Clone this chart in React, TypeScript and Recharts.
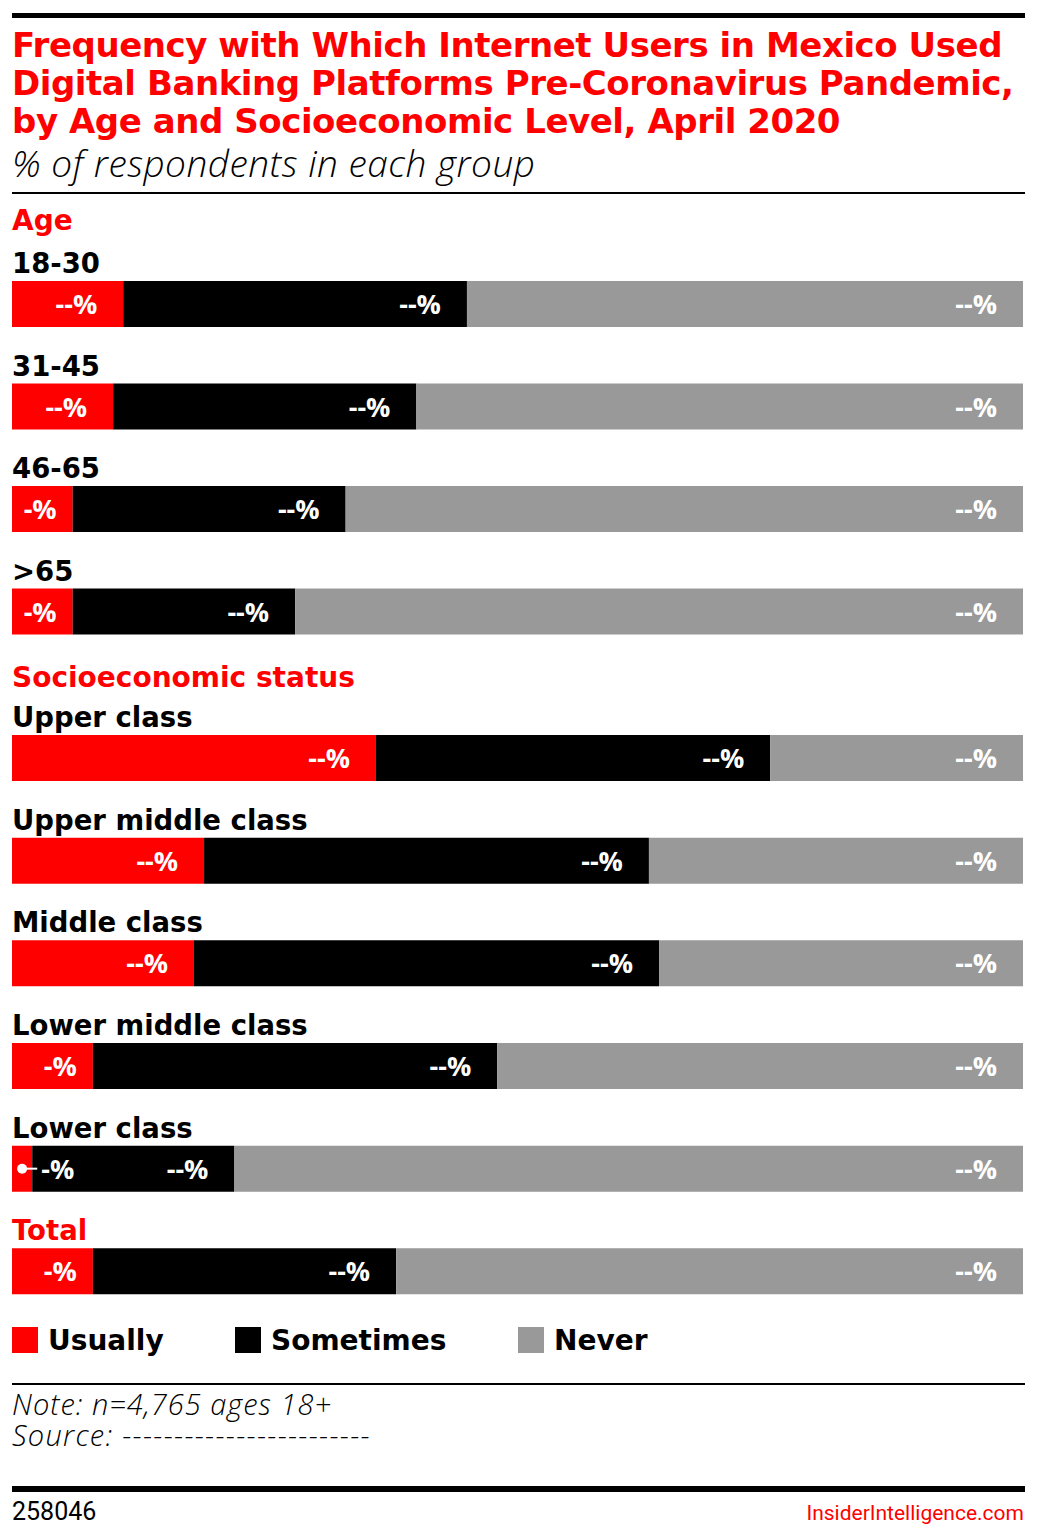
import React from 'react';
import { BarChart, Bar, XAxis, YAxis, LabelList } from 'recharts';

const RED = '#ff0000';
const BLACK = '#000000';
const GRAY = '#999999';

// age rows
const ageGroups = ['18-30', '31-45', '46-65', '>65'];
const ageUsually = [11, 10, 6, 6];
const ageSometimes = [34, 30, 27, 22];
const ageNever = [55, 60, 67, 72];

// socioeconomic rows (Total sits at the end of this block)
const socioGroups = ['Upper class', 'Upper middle class', 'Middle class', 'Lower middle class', 'Lower class', 'Total'];
const socioUsually = [36, 19, 18, 8, 2, 8];
const socioSometimes = [39, 44, 46, 40, 20, 30];
const socioNever = [25, 37, 36, 52, 78, 62];

const seriesNames = ['Usually', 'Sometimes', 'Never'];
const seriesColors = [RED, BLACK, GRAY];
const seriesKeys = ['usually', 'sometimes', 'never'];

const HEAD_FONT = '"DejaVu Sans", sans-serif';
const VALUE_FONT = '"Open Sans", sans-serif';
const NARROW_FONT = '"Liberation Sans Narrow", Roboto, sans-serif';

const buildRows = (groups: string[], u: number[], s: number[], n: number[]) =>
    groups.map((group, i) => ({ group, usually: u[i], sometimes: s[i], never: n[i] }));

const ageData = buildRows(ageGroups, ageUsually, ageSometimes, ageNever);
const socioData = buildRows(socioGroups, socioUsually, socioSometimes, socioNever);

// "--%" placeholders: one dash per digit
const ValueLabel = (props: any) => {
    const { x, y, width, height, value } = props;
    const text = value < 10 ? '-%' : '--%';
    const cy = Number(y) + Number(height) / 2;
    const style = { fontFamily: VALUE_FONT, fontWeight: 700, fontSize: 27, fill: '#fff' };
    if (width < 30) {
        // too thin for the text: dot + leader, text sits in the next segment
        const cx = Number(x) + Number(width) / 2;
        const end = Number(x) + Number(width);
        return (
            <g>
                <circle cx={cx} cy={cy} r={5} fill="#fff" />
                <line x1={cx} y1={cy} x2={end + 5} y2={cy} stroke="#fff" strokeWidth={2} />
                <text x={end + 9} y={cy + 10} style={style}>{text}</text>
            </g>
        );
    }
    const inset = value < 10 ? 16 : 26;
    return (
        <text x={Number(x) + Number(width) - inset} y={cy + 10} textAnchor="end" style={style}>
            {text}
        </text>
    );
};

const GroupLabel = (props: any) => {
    const { x, y, value } = props;
    return (
        <text
            x={x}
            y={Number(y) - 8}
            style={{ fontFamily: HEAD_FONT, fontWeight: 700, fontSize: 27.5, fill: value === 'Total' ? RED : BLACK }}
        >
            {value}
        </text>
    );
};

const StackedRows = ({ data, height }: { data: any[]; height: number }) => (
    <BarChart
        layout="vertical"
        width={1038}
        height={height}
        data={data}
        margin={{ top: 20, right: 15, bottom: 0, left: 12 }}
    >
        <XAxis type="number" domain={[0, 100]} hide />
        <YAxis type="category" dataKey="group" hide />
        {seriesKeys.map((key, i) => (
            <Bar key={key} dataKey={key} stackId="a" fill={seriesColors[i]} barSize={46} isAnimationActive={false}>
                {i === 0 && <LabelList dataKey="group" content={GroupLabel} />}
                <LabelList dataKey={key} content={ValueLabel} />
            </Bar>
        ))}
    </BarChart>
);

const App = () => {
    const legendX = [12, 235, 518];
    return (
        <div style={{ position: 'absolute', left: 0, top: 0, width: 1038, height: 1538, background: '#fff' }}>
            <svg width={1038} height={1538} style={{ position: 'absolute', left: 0, top: 0 }}>
                <rect x={12} y={13} width={1013} height={5} fill={BLACK} />
                <g style={{ fontFamily: HEAD_FONT, fontWeight: 700, fontSize: 34, fill: RED, letterSpacing: -0.45 }}>
                    <text x={12} y={56.5}>Frequency with Which Internet Users in Mexico Used</text>
                    <text x={12} y={94.5}>Digital Banking Platforms Pre-Coronavirus Pandemic,</text>
                    <text x={12} y={133}>by Age and Socioeconomic Level, April 2020</text>
                </g>
                <text
                    x={12}
                    y={177}
                    style={{ fontFamily: VALUE_FONT, fontStyle: 'italic', fontWeight: 300, fontSize: 37, letterSpacing: 0.5, fill: BLACK }}
                >
                    % of respondents in each group
                </text>
                <rect x={12} y={192} width={1013} height={2} fill={BLACK} />

                <text x={12} y={230} style={{ fontFamily: HEAD_FONT, fontWeight: 700, fontSize: 28, fill: RED }}>Age</text>
                <text x={12} y={686.5} style={{ fontFamily: HEAD_FONT, fontWeight: 700, fontSize: 28, fill: RED }}>
                    Socioeconomic status
                </text>

                {seriesNames.map((name, i) => (
                    <g key={name}>
                        <rect x={legendX[i]} y={1327} width={26} height={26} fill={seriesColors[i]} />
                        <text x={legendX[i] + 36} y={1350} style={{ fontFamily: HEAD_FONT, fontWeight: 700, fontSize: 28, fill: BLACK }}>
                            {name}
                        </text>
                    </g>
                ))}

                <rect x={12} y={1383} width={1013} height={2} fill={BLACK} />
                <g style={{ fontFamily: VALUE_FONT, fontStyle: 'italic', fontWeight: 300, fontSize: 29, fill: BLACK }}>
                    <text x={12} y={1415} style={{ letterSpacing: 1 }}>Note: n=4,765 ages 18+</text>
                    <text x={12} y={1446} style={{ letterSpacing: 1.3 }}>Source: ------------------------</text>
                </g>
                <rect x={12} y={1486} width={1013} height={6} fill={BLACK} />
                <text x={12} y={1520} style={{ fontFamily: NARROW_FONT, fontSize: 25, fill: BLACK }}>
                    258046
                </text>
                <text x={1024} y={1520} textAnchor="end" style={{ fontFamily: NARROW_FONT, fontSize: 21, fill: RED }}>
                    InsiderIntelligence.com
                </text>
            </svg>

            <div style={{ position: 'absolute', left: 0, top: 233 }}>
                <StackedRows data={ageData} height={430} />
            </div>
            <div style={{ position: 'absolute', left: 0, top: 687 }}>
                <StackedRows data={socioData} height={636} />
            </div>
        </div>
    );
};

export default App;
